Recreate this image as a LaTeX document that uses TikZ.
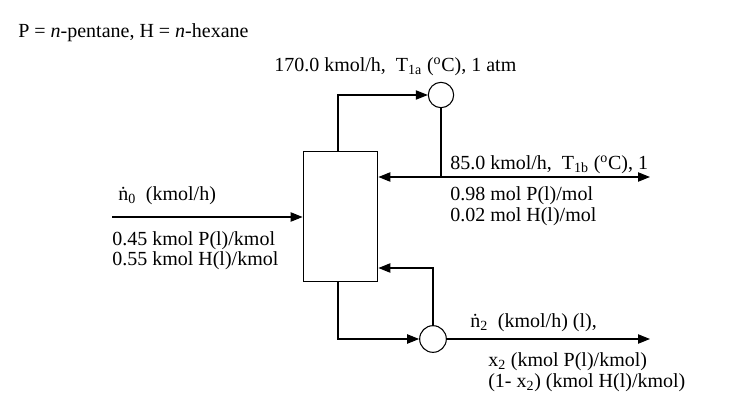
\documentclass[tikz,border=0pt]{standalone}
\usepackage{fontspec}
\setmainfont{Liberation Serif}
\usetikzlibrary{arrows.meta}
\begin{document}
\begin{tikzpicture}[x=0.75pt,y=-0.75pt,
  line/.style={line width=0.8pt},
  arr/.style={line width=0.8pt,-{Triangle[length=9pt,width=7pt]}},
  lbl/.style={anchor=west,inner sep=0pt,font=\fontsize{15}{17}\selectfont},
  mix/.style={circle,draw,line width=0.8pt,minimum size=24pt,inner sep=0pt}]
\useasboundingbox (0,0) rectangle (740,418);
\node[draw,line width=0.8pt,minimum width=56pt,minimum height=98pt,inner sep=0pt] (col) at (340.5,216.5) {};
\node[mix,minimum size=19pt] (c1) at (441,95) {};
\node[mix,minimum size=20pt] (c2) at (433,339) {};
\coordinate (topA) at (338,151);
\coordinate (topB) at (338,95);
\coordinate (j1) at (441,177);
\coordinate (out1) at (650,177);
\coordinate (feed) at (112,217);
\coordinate (botA) at (338,282);
\coordinate (botB) at (338,339);
\coordinate (r1) at (433,268);
\coordinate (out2) at (650,339);
\draw[arr] (topA) -- (topB) -- (c1.west);
\draw[line] (c1.south) -- (j1);
\draw[arr] (j1) -- (col.east |- j1);
\draw[arr] (j1) -- (out1);
\draw[arr] (feed) -- (col.west |- feed);
\draw[arr] (botA) -- (botB) -- (c2.west);
\draw[arr] (c2.north) -- (r1) -- (col.east |- r1);
\draw[arr] (c2.east) -- (out2);
\node[lbl] (t0) at (18,33) {P = \textit{n}-pentane, H = \textit{n}-hexane};
\node[lbl] (t1) at (274,67) {170.0 kmol/h,\ \ T\textsubscript{1a} (\textsuperscript{o}C), 1 atm};
\node[lbl] (t2) at (450,165) {85.0 kmol/h,\ \ T\textsubscript{1b} (\textsuperscript{o}C), 1};
\node[lbl] (t3) at (450,196) {0.98 mol P(l)/mol};
\node[lbl] (t4) at (450,217) {0.02 mol H(l)/mol};
\node[lbl] (t5) at (118,196) {\.{n}\textsubscript{0}\ \ (kmol/h)};
\node[lbl] (t6) at (112,241) {0.45 kmol P(l)/kmol};
\node[lbl] (t7) at (112,261) {0.55 kmol H(l)/kmol};
\node[lbl] (t8) at (470,323) {\.{n}\textsubscript{2}\ \ (kmol/h) (l),};
\node[lbl] (t9) at (488,362) {x\textsubscript{2} (kmol P(l)/kmol)};
\node[lbl] (t10) at (488,383) {(1- x\textsubscript{2}) (kmol H(l)/kmol)};
\end{tikzpicture}
\end{document}
